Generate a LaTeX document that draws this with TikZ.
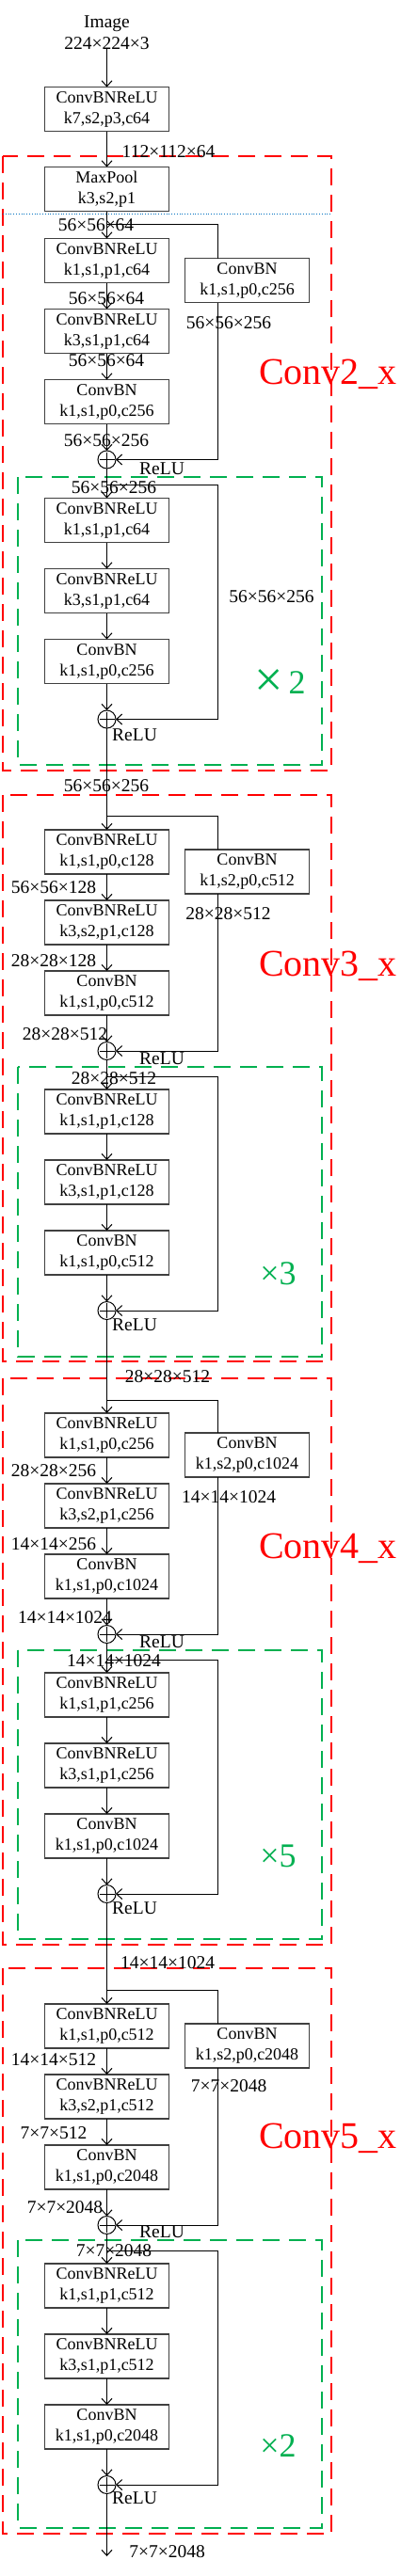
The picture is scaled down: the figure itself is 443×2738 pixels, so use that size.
\documentclass[tikz,border=0pt]{standalone}
\usepackage{fontspec}
\setmainfont{Liberation Serif}
\usepackage{tikz}
\usetikzlibrary{arrows.meta, positioning}

\definecolor{repgreen}{RGB}{0,176,80}
\definecolor{sepblue}{RGB}{0,112,192}
\newcommand{\blkfont}{\fontsize{18}{22}\selectfont}
\newcommand{\dimfont}{\fontsize{19.5}{23}\selectfont}
\newcommand{\stgfont}{\fontsize{40}{40}\selectfont}
\newcommand{\repfont}{\fontsize{36}{36}\selectfont}
\newcommand{\wideX}{\raisebox{-3pt}{\fontsize{54}{54}\selectfont ×}}

\begin{document}
\begin{tikzpicture}[
		x=1pt, y=-1pt,
		block/.style={
			rectangle,
			draw=black!75,
			line width=1.2pt,
			minimum width=132pt,
			minimum height=47pt,
			inner sep=0pt,
			outer sep=0pt,
			align=center,
			font=\blkfont
		},
		addnode/.style={
			circle,
			draw,
			line width=1pt,
			minimum size=19pt,
			inner sep=0pt,
			outer sep=0pt,
			path picture={
				\draw[line width=1pt, shorten <=1.5pt, shorten >=1.5pt]
					(path picture bounding box.north) -- (path picture bounding box.south);
				\draw[line width=1pt, shorten <=1.5pt, shorten >=1.5pt]
					(path picture bounding box.west) -- (path picture bounding box.east);
			}
		},
		arrow/.style={
			line width=1pt,
			-{Straight Barb[length=6pt, width=11pt]},
		},
		link/.style={line width=1pt},
		dim/.style={inner sep=0pt, font=\dimfont},
		stagebox/.style={red, line width=2.5pt, dash pattern=on 18pt off 10pt},
		repbox/.style={repgreen, line width=2.2pt, dash pattern=on 18pt off 10pt},
		sepline/.style={sepblue, line width=0.8pt, dotted},
		stagelabel/.style={text=red, font=\stgfont, inner sep=0pt, anchor=base},
		replabel/.style={text=repgreen, font=\repfont, inner sep=0pt, anchor=base}
	]
	\useasboundingbox (0,0) rectangle (443,2738);

	% frames
	\draw[stagebox] (3,166) rectangle (352,819);
	\draw[repbox] (19,507) rectangle (342,813);
	\draw[sepline] (3,227) -- (352,227);
	\draw[stagebox] (3,845) rectangle (352,1447);
	\draw[repbox] (19,1134) rectangle (342,1442);
	\draw[stagebox] (3,1465) rectangle (352,2067);
	\draw[repbox] (19,1754) rectangle (342,2061);
	\draw[stagebox] (3,2092) rectangle (352,2693);
	\draw[repbox] (19,2381) rectangle (342,2687);

	% stem
	\node[block] (stem) at (113.5,116) {ConvBNReLU\\k7,s2,p3,c64};
	\node[dim, align=center, above=40pt of stem] (img) {Image\\224×224×3};
	\node[block, below=38pt of stem] (pool) {MaxPool\\k3,s2,p1};
	\draw[arrow] (img) -- (stem);
	\draw[arrow] (stem) -- (pool);
	\node[dim] (d112) at (179,161) {112×112×64};

	% Conv2_x
	\node[block, below=29pt of pool] (s2b1) {ConvBNReLU\\k1,s1,p1,c64};
	\node[block, below=28pt of s2b1] (s2b2) {ConvBNReLU\\k3,s1,p1,c64};
	\node[block, below=28pt of s2b2] (s2b3) {ConvBN\\k1,s1,p0,c256};
	\node[block, below right=21pt and 17pt of s2b1.north east] (s2sc) {ConvBN\\k1,s1,p0,c256};
	\node[addnode, below=28.5pt of s2b3] (s2add1) {};
	\node[block, below=31.5pt of s2add1] (s2b4) {ConvBNReLU\\k1,s1,p1,c64};
	\node[block, below=28pt of s2b4] (s2b5) {ConvBNReLU\\k3,s1,p1,c64};
	\node[block, below=28pt of s2b5] (s2b6) {ConvBN\\k1,s1,p0,c256};
	\node[addnode, below=28.5pt of s2b6] (s2add2) {};
	\coordinate (s2split1) at ([yshift=15pt]s2b1.north);
	\coordinate (s2split2) at ([yshift=14pt]s2b4.north);

	\draw[arrow] (pool) -- (s2b1);
	\draw[arrow] (s2b1) -- (s2b2);
	\draw[arrow] (s2b2) -- (s2b3);
	\draw[arrow] (s2b3) -- (s2add1);
	\draw[link] (s2split1) -| ([xshift=-31pt]s2sc.north);
	\draw[arrow] ([xshift=-31pt]s2sc.south) |- (s2add1.east);
	\draw[arrow] (s2add1) -- (s2b4);
	\draw[arrow] (s2b4) -- (s2b5);
	\draw[arrow] (s2b5) -- (s2b6);
	\draw[arrow] (s2b6) -- (s2add2);
	\draw[arrow] (s2split2) -- ++(117.5pt,0) |- (s2add2.east);

	\node[dim] (s2d0) at (102,239) {56×56×64};
	\node[dim] (s2d1) at (113,317) {56×56×64};
	\node[dim] (s2d2) at (113,383) {56×56×64};
	\node[dim] (s2d3) at (113,468) {56×56×256};
	\node[dim] (s2d4) at (243,343) {56×56×256};
	\node[dim] (s2relu1) at (172,498) {ReLU};
	\node[dim] (s2d5) at (121,518) {56×56×256};
	\node[dim] (s2d6) at (288.5,634) {56×56×256};
	\node[dim] (s2relu2) at (143,781) {ReLU};
	\node[stagelabel] (s2name) at (348.5,408) {Conv2\_x};
	\node[replabel] (s2rep) at (297.5,737) {\wideX\,2};
	\node[dim] (s2out) at (113,835) {56×56×256};

	% Conv3_x
	\node[block, below=108pt of s2add2] (s3b1) {ConvBNReLU\\k1,s1,p0,c128};
	\node[block, below=28pt of s3b1] (s3b2) {ConvBNReLU\\k3,s2,p1,c128};
	\node[block, below=28pt of s3b2] (s3b3) {ConvBN\\k1,s1,p0,c512};
	\node[block, below right=21pt and 17pt of s3b1.north east] (s3sc) {ConvBN\\k1,s2,p0,c512};
	\node[addnode, below=28.5pt of s3b3] (s3add1) {};
	\node[block, below=31.5pt of s3add1] (s3b4) {ConvBNReLU\\k1,s1,p1,c128};
	\node[block, below=28pt of s3b4] (s3b5) {ConvBNReLU\\k3,s1,p1,c128};
	\node[block, below=28pt of s3b5] (s3b6) {ConvBN\\k1,s1,p0,c512};
	\node[addnode, below=28.5pt of s3b6] (s3add2) {};
	\coordinate (s3split1) at ([yshift=15pt]s3b1.north);
	\coordinate (s3split2) at ([yshift=14pt]s3b4.north);

	\draw[arrow] (s2add2) -- (s3b1);
	\draw[arrow] (s3b1) -- (s3b2);
	\draw[arrow] (s3b2) -- (s3b3);
	\draw[arrow] (s3b3) -- (s3add1);
	\draw[link] (s3split1) -| ([xshift=-31pt]s3sc.north);
	\draw[arrow] ([xshift=-31pt]s3sc.south) |- (s3add1.east);
	\draw[arrow] (s3add1) -- (s3b4);
	\draw[arrow] (s3b4) -- (s3b5);
	\draw[arrow] (s3b5) -- (s3b6);
	\draw[arrow] (s3b6) -- (s3add2);
	\draw[arrow] (s3split2) -- ++(117.5pt,0) |- (s3add2.east);

	\node[dim] (s3d1) at (57,943) {56×56×128};
	\node[dim] (s3d2) at (57,1021) {28×28×128};
	\node[dim] (s3d3) at (69,1099) {28×28×512};
	\node[dim] (s3d4) at (242.5,971) {28×28×512};
	\node[dim] (s3relu1) at (172,1125) {ReLU};
	\node[dim] (s3d5) at (121,1146) {28×28×512};
	\node[dim] (s3relu2) at (143,1408) {ReLU};
	\node[stagelabel] (s3name) at (348.5,1037) {Conv3\_x};
	\node[replabel] (s3rep) at (295.5,1365) {×3};
	\node[dim] (s3out) at (178,1463) {28×28×512};

	% Conv4_x
	\node[block, below=99.5pt of s3add2] (s4b1) {ConvBNReLU\\k1,s1,p0,c256};
	\node[block, below=28pt of s4b1] (s4b2) {ConvBNReLU\\k3,s2,p1,c256};
	\node[block, below=28pt of s4b2] (s4b3) {ConvBN\\k1,s1,p0,c1024};
	\node[block, below right=21pt and 17pt of s4b1.north east] (s4sc) {ConvBN\\k1,s2,p0,c1024};
	\node[addnode, below=28.5pt of s4b3] (s4add1) {};
	\node[block, below=31.5pt of s4add1] (s4b4) {ConvBNReLU\\k1,s1,p1,c256};
	\node[block, below=28pt of s4b4] (s4b5) {ConvBNReLU\\k3,s1,p1,c256};
	\node[block, below=28pt of s4b5] (s4b6) {ConvBN\\k1,s1,p0,c1024};
	\node[addnode, below=28.5pt of s4b6] (s4add2) {};
	\coordinate (s4split1) at ([yshift=14pt]s4b1.north);
	\coordinate (s4split2) at ([yshift=14pt]s4b4.north);

	\draw[arrow] (s3add2) -- (s4b1);
	\draw[arrow] (s4b1) -- (s4b2);
	\draw[arrow] (s4b2) -- (s4b3);
	\draw[arrow] (s4b3) -- (s4add1);
	\draw[link] (s4split1) -| ([xshift=-31pt]s4sc.north);
	\draw[arrow] ([xshift=-31pt]s4sc.south) |- (s4add1.east);
	\draw[arrow] (s4add1) -- (s4b4);
	\draw[arrow] (s4b4) -- (s4b5);
	\draw[arrow] (s4b5) -- (s4b6);
	\draw[arrow] (s4b6) -- (s4add2);
	\draw[arrow] (s4split2) -- ++(117.5pt,0) |- (s4add2.east);

	\node[dim] (s4d1) at (57,1563) {28×28×256};
	\node[dim] (s4d2) at (57,1641) {14×14×256};
	\node[dim] (s4d3) at (69,1719) {14×14×1024};
	\node[dim] (s4d4) at (243,1591) {14×14×1024};
	\node[dim] (s4relu1) at (172,1745) {ReLU};
	\node[dim] (s4d5) at (121,1765) {14×14×1024};
	\node[dim] (s4relu2) at (143,2028) {ReLU};
	\node[stagelabel] (s4name) at (348.5,1656) {Conv4\_x};
	\node[replabel] (s4rep) at (295.5,1984) {×5};
	\node[dim] (s4out) at (178,2086) {14×14×1024};

	% Conv5_x
	\node[block, below=107.5pt of s4add2] (s5b1) {ConvBNReLU\\k1,s1,p0,c512};
	\node[block, below=28pt of s5b1] (s5b2) {ConvBNReLU\\k3,s2,p1,c512};
	\node[block, below=28pt of s5b2] (s5b3) {ConvBN\\k1,s1,p0,c2048};
	\node[block, below right=21pt and 17pt of s5b1.north east] (s5sc) {ConvBN\\k1,s2,p0,c2048};
	\node[addnode, below=28.5pt of s5b3] (s5add1) {};
	\node[block, below=31.5pt of s5add1] (s5b4) {ConvBNReLU\\k1,s1,p1,c512};
	\node[block, below=28pt of s5b4] (s5b5) {ConvBNReLU\\k3,s1,p1,c512};
	\node[block, below=28pt of s5b5] (s5b6) {ConvBN\\k1,s1,p0,c2048};
	\node[addnode, below=28.5pt of s5b6] (s5add2) {};
	\coordinate (s5split1) at ([yshift=15pt]s5b1.north);
	\coordinate (s5split2) at ([yshift=14pt]s5b4.north);
	\coordinate[below=66.5pt of s5add2] (out);

	\draw[arrow] (s4add2) -- (s5b1);
	\draw[arrow] (s5b1) -- (s5b2);
	\draw[arrow] (s5b2) -- (s5b3);
	\draw[arrow] (s5b3) -- (s5add1);
	\draw[link] (s5split1) -| ([xshift=-31pt]s5sc.north);
	\draw[arrow] ([xshift=-31pt]s5sc.south) |- (s5add1.east);
	\draw[arrow] (s5add1) -- (s5b4);
	\draw[arrow] (s5b4) -- (s5b5);
	\draw[arrow] (s5b5) -- (s5b6);
	\draw[arrow] (s5b6) -- (s5add2);
	\draw[arrow] (s5split2) -- ++(117.5pt,0) |- (s5add2.east);
	\draw[arrow] (s5add2) -- (out);

	\node[dim] (s5d1) at (57,2189) {14×14×512};
	\node[dim] (s5d2) at (57,2267) {7×7×512};
	\node[dim] (s5d3) at (69,2346) {7×7×2048};
	\node[dim] (s5d4) at (243,2217) {7×7×2048};
	\node[dim] (s5relu1) at (172,2372) {ReLU};
	\node[dim] (s5d5) at (121,2392) {7×7×2048};
	\node[dim] (s5relu2) at (143,2655) {ReLU};
	\node[stagelabel] (s5name) at (348.5,2283) {Conv5\_x};
	\node[replabel] (s5rep) at (295.5,2611) {×2};
	\node[dim] (s5out) at (177.5,2712) {7×7×2048};

\end{tikzpicture}
\end{document}
